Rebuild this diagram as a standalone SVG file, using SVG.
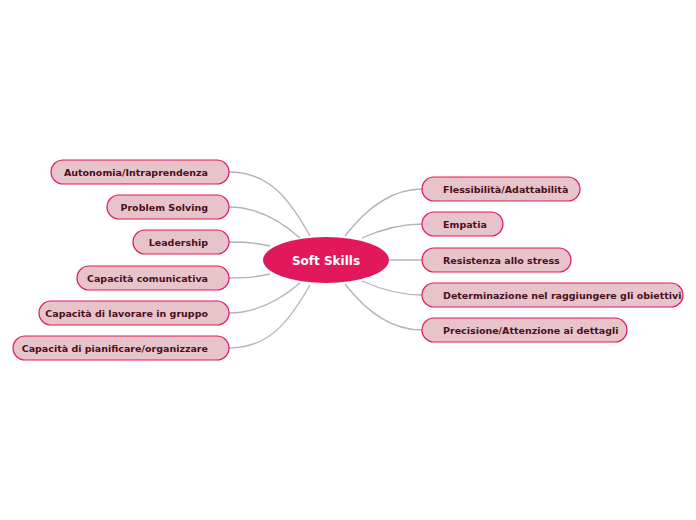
<svg xmlns="http://www.w3.org/2000/svg" width="696" height="520" viewBox="0 0 696 520">
<style>
.n rect{fill:#e6c4c9;stroke:#e2185b;stroke-width:1.2}
.n text{font-family:"DejaVu Sans",sans-serif;font-weight:bold;font-size:9.5px;fill:#4a0f1c}
.l text{text-anchor:end}
#links path{fill:none;stroke:#b3b3b3;stroke-width:1.3}
</style>
<rect width="696" height="520" fill="#fff"/>
<g id="links">
<path d="M229,172 C270,172 290,200 310,236"/>
<path d="M229,207 C255,207 280,220 300,238"/>
<path d="M229,242 C245,242 258,243 270,246"/>
<path d="M229,278 C245,278 258,277 270,274"/>
<path d="M229,313 C255,313 280,300 300,283"/>
<path d="M229,348 C270,348 290,320 310,285"/>
<path d="M345,236 C365,210 390,189 422,189"/>
<path d="M362,238 C380,230 400,224 422,224"/>
<path d="M389,260 L422,260"/>
<path d="M362,281 C380,289 400,295 422,295"/>
<path d="M345,284 C365,310 390,330 422,330"/>
</g>
<g id="center"><ellipse cx="326" cy="260" rx="63" ry="23" fill="#e2185b"/>
<text x="326" y="264.5" text-anchor="middle" font-family="DejaVu Sans,sans-serif" font-weight="bold" font-size="12" fill="#fff">Soft Skills</text></g>
<g id="n1" class="n l"><rect x="51" y="160" width="178" height="24" rx="12"/><text x="208" y="175.5">Autonomia/Intraprendenza</text></g>
<g id="n2" class="n l"><rect x="107" y="195" width="122" height="24" rx="12"/><text x="208" y="210.5">Problem Solving</text></g>
<g id="n3" class="n l"><rect x="133" y="230" width="96" height="24" rx="12"/><text x="208" y="245.5">Leadership</text></g>
<g id="n4" class="n l"><rect x="77" y="266" width="152" height="24" rx="12"/><text x="208" y="281.5">Capacità comunicativa</text></g>
<g id="n5" class="n l"><rect x="39" y="301" width="190" height="24" rx="12"/><text x="208" y="316.5">Capacità di lavorare in gruppo</text></g>
<g id="n6" class="n l"><rect x="13" y="336" width="216" height="24" rx="12"/><text x="208" y="351.5">Capacità di pianificare/organizzare</text></g>
<g id="n7" class="n"><rect x="422" y="177" width="158" height="24" rx="12"/><text x="443" y="192.5">Flessibilità/Adattabilità</text></g>
<g id="n8" class="n"><rect x="422" y="212" width="81" height="24" rx="12"/><text x="443" y="227.5">Empatia</text></g>
<g id="n9" class="n"><rect x="422" y="248" width="149" height="24" rx="12"/><text x="443" y="263.5">Resistenza allo stress</text></g>
<g id="n10" class="n"><rect x="422" y="283" width="261" height="24" rx="12"/><text x="443" y="298.5">Determinazione nel raggiungere gli obiettivi</text></g>
<g id="n11" class="n"><rect x="422" y="318" width="205" height="24" rx="12"/><text x="443" y="333.5">Precisione/Attenzione ai dettagli</text></g>
</svg>
